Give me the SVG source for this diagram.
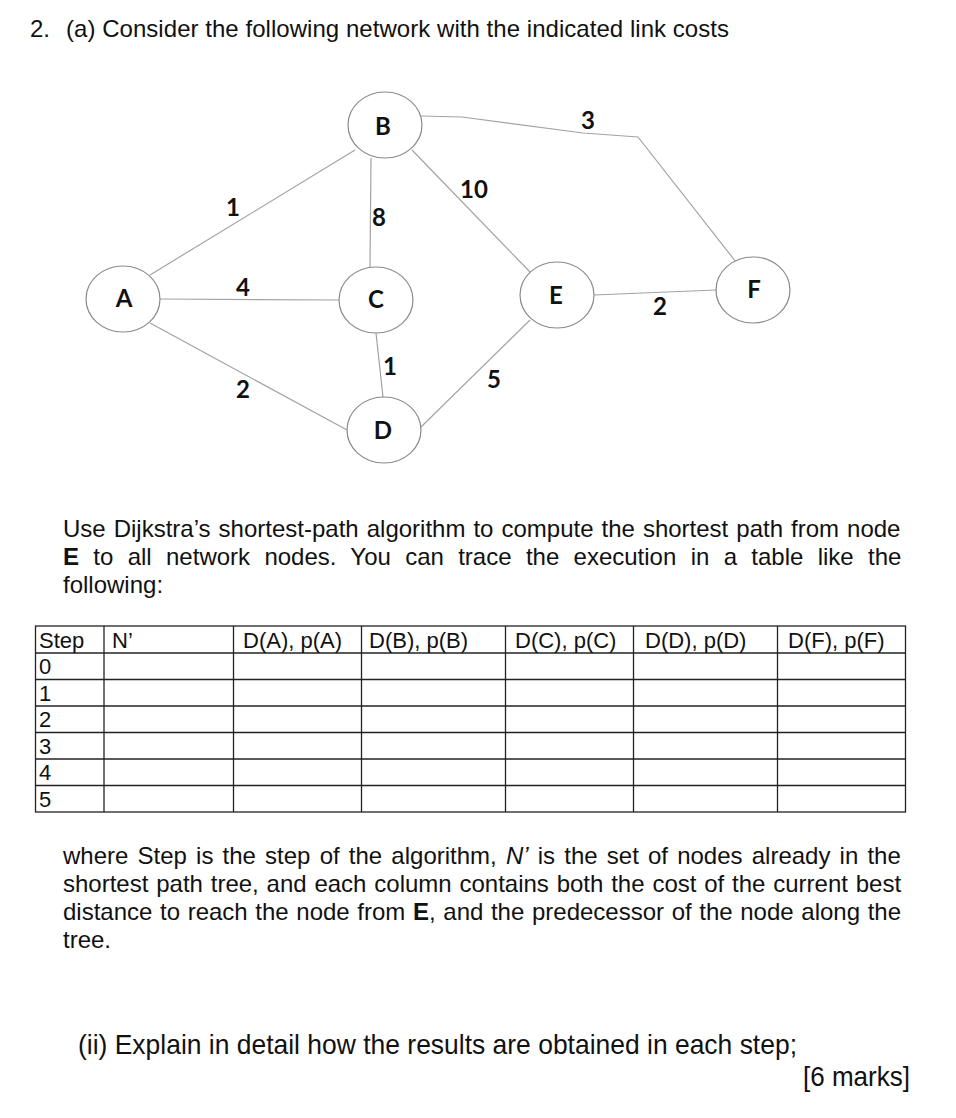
<svg xmlns="http://www.w3.org/2000/svg" width="956" height="1118" viewBox="0 0 956 1118">
<style>
.t{font-family:"Liberation Sans",Arial,sans-serif;font-size:24px;fill:#111}
.tb{font-weight:bold}
.tab{font-family:"Liberation Sans",Arial,sans-serif;font-size:22px;fill:#111}
.nl{font-family:Lato,"Open Sans",sans-serif;font-weight:700;font-size:24px;fill:#111;text-anchor:middle}
.el{font-family:Lato,"Open Sans",sans-serif;font-weight:700;font-size:24px;fill:#111;text-anchor:middle}
.node ellipse{fill:#fff;stroke:#8a8a8a;stroke-width:1.2}
.edge{fill:none;stroke:#a3a3a3;stroke-width:1.2}
.grid{stroke:#222;stroke-width:1.3;fill:none}
.big{font-family:"Liberation Sans",Arial,sans-serif;font-size:28px;fill:#111}
</style>
<rect width="956" height="1118" fill="#fff"/>
<text class="t" x="30" y="37">2.</text>
<text class="t" x="66" y="37" textLength="663" lengthAdjust="spacing">(a) Consider the following network with the indicated link costs</text>
<g id="connectors">
<line class="edge" x1="150" y1="275" x2="355" y2="150"/>
<line class="edge" x1="160" y1="299" x2="339" y2="300"/>
<line class="edge" x1="150" y1="323" x2="347" y2="430"/>
<line class="edge" x1="371" y1="158" x2="370" y2="267"/>
<line class="edge" x1="376" y1="333" x2="383" y2="397"/>
<polyline class="edge" points="421,116 462,117 583,133 638,137 736,262"/>
<line class="edge" x1="412" y1="150" x2="530" y2="272"/>
<line class="edge" x1="420" y1="428" x2="530" y2="320"/>
<line class="edge" x1="594" y1="295" x2="716" y2="290"/>
<text class="el" x="233" y="216">1</text>
<text class="el" x="379" y="226">8</text>
<text class="el" x="243" y="296">4</text>
<text class="el" x="243" y="398">2</text>
<text class="el" x="390" y="375">1</text>
<text class="el" x="588" y="129">3</text>
<text class="el" x="474" y="198">10</text>
<text class="el" x="660" y="315">2</text>
<text class="el" x="494" y="388">5</text>
</g>
<g id="node-A" class="node"><ellipse cx="123" cy="299" rx="37" ry="33"/><text class="nl" x="124" y="307">A</text></g>
<g id="node-B" class="node"><ellipse cx="385" cy="125" rx="37" ry="33"/><text class="nl" x="383" y="135">B</text></g>
<g id="node-C" class="node"><ellipse cx="376" cy="300" rx="37" ry="33"/><text class="nl" x="376" y="308">C</text></g>
<g id="node-D" class="node"><ellipse cx="384" cy="430" rx="37" ry="33"/><text class="nl" x="383" y="439">D</text></g>
<g id="node-E" class="node"><ellipse cx="557" cy="295" rx="37" ry="33"/><text class="nl" x="556" y="304">E</text></g>
<g id="node-F" class="node"><ellipse cx="753" cy="290" rx="37" ry="33"/><text class="nl" x="754" y="298">F</text></g>
<text class="t" x="63" y="537" word-spacing="1.35">Use Dijkstra’s shortest-path algorithm to compute the shortest path from node</text>
<text class="t" x="63" y="565" word-spacing="7.66"><tspan class="tb">E</tspan> to all network nodes. You can trace the execution in a table like the</text>
<text class="t" x="63" y="593">following:</text>
<g id="table">
<rect class="grid" x="35.5" y="626" width="870" height="186"/>
<line class="grid" x1="35.5" y1="653" x2="905.5" y2="653"/>
<line class="grid" x1="35.5" y1="679.5" x2="905.5" y2="679.5"/>
<line class="grid" x1="35.5" y1="706" x2="905.5" y2="706"/>
<line class="grid" x1="35.5" y1="732.5" x2="905.5" y2="732.5"/>
<line class="grid" x1="35.5" y1="759" x2="905.5" y2="759"/>
<line class="grid" x1="35.5" y1="785.5" x2="905.5" y2="785.5"/>
<line class="grid" x1="104" y1="626" x2="104" y2="812"/>
<line class="grid" x1="233.5" y1="626" x2="233.5" y2="812"/>
<line class="grid" x1="361.5" y1="626" x2="361.5" y2="812"/>
<line class="grid" x1="505.5" y1="626" x2="505.5" y2="812"/>
<line class="grid" x1="633.5" y1="626" x2="633.5" y2="812"/>
<line class="grid" x1="777.5" y1="626" x2="777.5" y2="812"/>
<text class="tab" x="39" y="648">Step</text>
<text class="tab" x="112" y="648">N’</text>
<text class="tab" x="243" y="648">D(A), p(A)</text>
<text class="tab" x="369" y="648">D(B), p(B)</text>
<text class="tab" x="515" y="648">D(C), p(C)</text>
<text class="tab" x="645" y="648">D(D), p(D)</text>
<text class="tab" x="788" y="648">D(F), p(F)</text>
<text class="tab" x="39" y="674">0</text>
<text class="tab" x="39" y="701">1</text>
<text class="tab" x="39" y="727">2</text>
<text class="tab" x="39" y="754">3</text>
<text class="tab" x="39" y="780">4</text>
<text class="tab" x="39" y="807">5</text>
</g>
<text class="t" x="63" y="864" word-spacing="2.5">where Step is the step of the algorithm, <tspan font-style="italic">N’</tspan> is the set of nodes already in the</text>
<text class="t" x="63" y="892" word-spacing="1.15">shortest path tree, and each column contains both the cost of the current best</text>
<text class="t" x="63" y="920" word-spacing="0.96">distance to reach the node from <tspan class="tb">E</tspan>, and the predecessor of the node along the</text>
<text class="t" x="63" y="948">tree.</text>
<text class="big" x="78" y="1054" textLength="719" lengthAdjust="spacingAndGlyphs">(ii) Explain in detail how the results are obtained in each step;</text>
<text class="big" x="803" y="1086" textLength="107" lengthAdjust="spacingAndGlyphs">[6 marks]</text>
</svg>
